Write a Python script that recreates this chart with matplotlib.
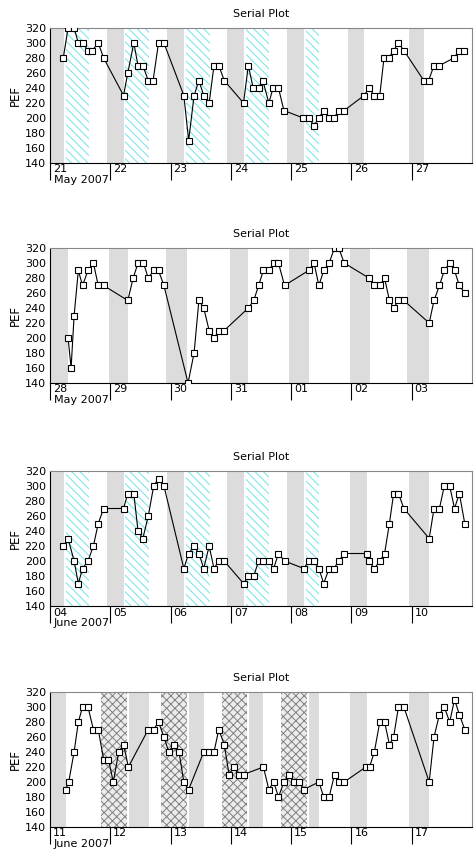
import matplotlib
matplotlib.use("Agg")
import matplotlib.pyplot as plt

yticks = [140, 160, 180, 200, 220, 240, 260, 280, 300, 320]

p1_labels = ["21", "22", "23", "24", "25", "26", "27"]
p1_month = "May 2007"
p1_x = [0.22,0.30,0.40,0.47,0.54,0.63,0.70,0.80,0.89,1.22,1.29,1.39,1.46,1.54,1.63,1.71,1.80,1.89,
        2.22,2.30,2.39,2.47,2.55,2.64,2.72,2.80,2.89,3.21,3.29,3.37,3.46,3.53,3.63,3.70,3.79,3.88,
        4.20,4.29,4.38,4.46,4.54,4.62,4.71,4.79,4.88,5.21,5.29,5.38,5.47,5.54,5.62,5.70,5.78,5.87,
        6.20,6.28,6.37,6.46,6.70,6.79,6.87]
p1_y = [280,320,320,300,300,290,290,300,280,230,260,300,270,270,250,250,300,300,
        230,170,230,250,230,220,270,270,250,220,270,240,240,250,220,240,240,210,
        200,200,190,200,210,200,200,210,210,230,240,230,230,280,280,290,300,290,
        250,250,270,270,280,290,290]
p1_night = [(0,0.23),(0.94,1.22),(1.94,2.22),(2.94,3.21),(3.93,4.21),(4.94,5.21),(5.96,6.2)]
p1_hatch = [(0.26,0.64),(1.25,1.65),(2.26,2.65),(3.25,3.64),(4.24,4.47)]

p2_labels = ["28", "29", "30", "31", "01", "02", "03"]
p2_month = "May 2007"
p2_x = [0.30,0.35,0.40,0.47,0.54,0.63,0.72,0.80,0.89,1.29,1.38,1.46,1.55,1.63,1.72,1.80,1.89,
        2.29,2.39,2.47,2.55,2.64,2.72,2.81,2.89,3.29,3.38,3.46,3.54,3.63,3.71,3.79,3.89,
        4.29,4.38,4.46,4.54,4.63,4.72,4.79,4.88,5.29,5.38,5.47,5.55,5.63,5.70,5.78,5.87,
        6.29,6.37,6.46,6.54,6.63,6.71,6.79,6.88]
p2_y = [200,160,230,290,270,290,300,270,270,250,280,300,300,280,290,290,270,
        140,180,250,240,210,200,210,210,240,250,270,290,290,300,300,270,
        290,300,270,290,300,320,320,300,280,270,270,280,250,240,250,250,
        220,250,270,290,300,290,270,260]
p2_night = [(0,0.30),(0.98,1.30),(1.93,2.28),(2.98,3.28),(3.97,4.29),(4.97,5.30),(5.93,6.29)]
p2_hatch = []

p3_labels = ["04", "05", "06", "07", "08", "09", "10"]
p3_month = "June 2007"
p3_x = [0.22,0.30,0.40,0.47,0.54,0.63,0.72,0.80,0.89,1.22,1.29,1.39,1.46,1.54,1.63,1.72,1.80,1.89,
        2.22,2.30,2.39,2.47,2.55,2.64,2.72,2.80,2.89,3.21,3.29,3.38,3.46,3.54,3.63,3.71,3.79,3.89,
        4.21,4.29,4.38,4.46,4.54,4.63,4.71,4.79,4.88,5.25,5.29,5.38,5.47,5.55,5.63,5.70,5.78,5.87,
        6.29,6.37,6.46,6.54,6.63,6.71,6.79,6.88]
p3_y = [220,230,200,170,190,200,220,250,270,270,290,290,240,230,260,300,310,300,
        190,210,220,210,190,220,190,200,200,170,180,180,200,200,200,190,210,200,
        190,200,200,190,170,190,190,200,210,210,200,190,200,210,250,290,290,270,
        230,270,270,300,300,270,290,250]
p3_night = [(0,0.24),(0.94,1.22),(1.94,2.22),(2.94,3.21),(3.93,4.21),(4.97,5.26),(5.96,6.29)]
p3_hatch = [(0.26,0.64),(1.25,1.65),(2.26,2.65),(3.25,3.64),(4.24,4.47)]

p4_labels = ["11", "12", "13", "14", "15", "16", "17"]
p4_month = "June 2007"
p4_x = [0.26,0.31,0.40,0.47,0.54,0.63,0.72,0.80,0.89,0.97,1.05,1.14,1.22,1.30,
        1.63,1.72,1.80,1.89,1.97,2.05,2.14,2.22,2.30,2.55,2.64,2.72,2.80,2.89,2.97,3.05,3.13,3.21,
        3.54,3.63,3.71,3.79,3.88,3.96,4.05,4.13,4.21,4.46,4.54,4.63,4.72,4.79,4.88,
        5.24,5.30,5.38,5.47,5.55,5.63,5.70,5.78,5.87,6.29,6.37,6.46,6.54,6.63,6.71,6.79,6.88]
p4_y = [190,200,240,280,300,300,270,270,230,230,200,240,250,220,
        270,270,280,260,240,250,240,200,190,240,240,240,270,250,210,220,210,210,
        220,190,200,180,200,210,200,200,190,200,180,180,210,200,200,
        220,220,240,280,280,250,260,300,300,200,260,290,300,280,310,290,270]
p4_night = [(0,0.26),(1.31,1.64),(2.31,2.55),(3.30,3.54),(4.30,4.46),(4.97,5.26),(5.96,6.29)]
p4_xhatch = [(0.84,1.27),(1.84,2.27),(2.85,3.26),(3.84,4.27)]

panels = [
    (p1_labels, p1_month, p1_x, p1_y, p1_night, p1_hatch, []),
    (p2_labels, p2_month, p2_x, p2_y, p2_night, p2_hatch, []),
    (p3_labels, p3_month, p3_x, p3_y, p3_night, p3_hatch, []),
    (p4_labels, p4_month, p4_x, p4_y, p4_night, [], p4_xhatch),
]

W, H = 474, 856
fig = plt.figure(figsize=(W/100, H/100), dpi=100)
plt.rcParams['hatch.linewidth'] = 0.7
tops = [28, 248, 471, 692]
ph = 135
for (labels, month, xs, ys, night, hatch, xhatch), top in zip(panels, tops):
    ax = fig.add_axes([50/W, 1-(top+ph)/H, 422/W, ph/H])
    ax.set_xlim(0, 7)
    ax.set_ylim(140, 320)
    for a, b in night:
        ax.axvspan(a, b, color='#dcdcdc', lw=0, zorder=0)
    for a, b in hatch:
        ax.axvspan(a, b, facecolor='white', edgecolor='#6fe3ea', hatch='\\\\\\\\', lw=0, zorder=0)
    for a, b in xhatch:
        ax.axvspan(a, b, facecolor='#ececec', edgecolor='#808080', hatch='xxxx', lw=0, zorder=0)
    ax.plot(xs, ys, color='black', lw=0.8, marker='s', ms=4, mfc='white', mec='black', mew=0.8, zorder=3)
    ax.set_yticks(yticks)
    ax.tick_params(axis='y', labelsize=8, length=0, pad=3)
    ax.set_xticks(range(7))
    ax.set_xticklabels([])
    ax.tick_params(axis='x', length=12, width=0.8, direction='out')
    for i, lab in enumerate(labels):
        ax.text(i + 0.05, 138, lab, fontsize=8, ha='left', va='top', clip_on=False)
    ax.text(0.06, 124, month, fontsize=8, ha='left', va='top', clip_on=False)
    ax.set_ylabel("PEF", fontsize=8.5, labelpad=2)
    ax.set_title("Serial Plot", fontsize=8, pad=8)
    for s in ax.spines.values():
        s.set_color('#888888')
        s.set_linewidth(0.8)
    ax.spines['bottom'].set_color('black')
    ax.spines['left'].set_color('black')

fig.savefig("out.png", dpi=100)
